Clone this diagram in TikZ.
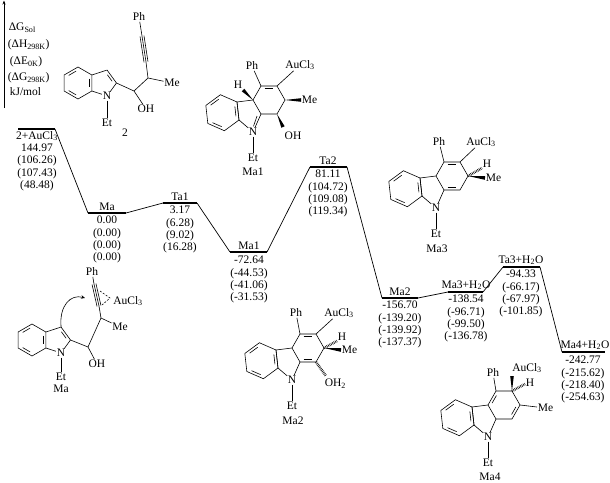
\documentclass[tikz,border=0pt]{standalone}
\usepackage{fontspec}
\setmainfont{Liberation Serif}
\usetikzlibrary{calc,arrows.meta}
\newcommand\fs{\fontsize{11.5}{12.3}\selectfont}
\newcommand\hexon[3]{%
 \coordinate (#3a) at (#1); \coordinate (#3b) at (#2);
 \coordinate (#3c) at ($(#3b)!1!120:(#3a)$);
 \coordinate (#3d) at ($(#3c)!1!120:(#3b)$);
 \coordinate (#3e) at ($(#3d)!1!120:(#3c)$);
 \coordinate (#3f) at ($(#3e)!1!120:(#3d)$);
 \coordinate (#3o) at ($(#3a)!0.5!(#3d)$);
 \draw[bond] (#3a)--(#3b)--(#3c)--(#3d)--(#3e)--(#3f)--cycle;}
\newcommand\dbl[3]{\draw[bond] ($(#1)!0.17!(#2)!2.8pt!(#3)$) -- ($(#2)!0.17!(#1)!2.8pt!(#3)$);}
\newcommand\wdg[2]{\fill (#1) -- ($(#2)!1.8pt!90:(#1)$) -- ($(#2)!1.8pt!-90:(#1)$) -- cycle;}
\newcommand\hsh[2]{\draw[line width=2.6pt, dash pattern=on 0.6pt off 1pt] (#1) -- (#2);}
\newcommand\tripl[2]{\draw[bond] (#1)--(#2);
 \draw[bond] ($(#1)!2pt!90:(#2)$) -- ($(#2)!2pt!-90:(#1)$);
 \draw[bond] ($(#1)!2pt!-90:(#2)$) -- ($(#2)!2pt!90:(#1)$);}
\newcommand\indole[4]{% cx, cy, s, prefix
 \coordinate (#4ta) at ({#1+0.866*#3},{#2-0.5*#3});
 \coordinate (#4tb) at ({#1+0.866*#3},{#2+0.5*#3});
 \hexon{#4ta}{#4tb}{#4b}
 \coordinate (#4p3) at ($(#4ta)!1!108:(#4tb)$);
 \coordinate (#4p2) at ($(#4p3)!1!108:(#4ta)$);
 \coordinate (#4pN) at ($(#4p2)!1!108:(#4p3)$);
 \coordinate (#4po) at ($(#4ta)!0.5!(#4tb)!0.45!(#4p2)$);
 \draw[bond] (#4ta) -- (#4p3) -- (#4p2) -- (#4pN) -- (#4tb);
 \dbl{#4bc}{#4bd}{#4bo}\dbl{#4be}{#4bf}{#4bo}\dbl{#4ba}{#4bb}{#4bo}
 \dbl{#4p3}{#4p2}{#4po}
 \node[atom] (#4N) at (#4pN) {N};}
\newcommand\carb[3]{% x, y, prefix
 \begin{scope}[shift={(#1,#2)}]
 \coordinate (#3N) at (0,0);
 \coordinate (#3A) at (8,-18);
 \coordinate (#3B) at (0,-32);
 \coordinate (#3C4) at (8,-46);
 \coordinate (#3C3) at (24,-46);
 \coordinate (#3C2) at (32,-32);
 \coordinate (#3C1) at (24,-18);
 \coordinate (#3D) at (-16,-30);
 \coordinate (#3E) at (-14,-12);
 \coordinate (#3ro) at (16,-32);
 \coordinate (#3po) at (-4,-19);
 \end{scope}
 \draw[bond] (#3N)--(#3A)--(#3B)--(#3D)--(#3E)--cycle;
 \draw[bond] (#3A)--(#3C1)--(#3C2)--(#3C3)--(#3C4)--(#3B);
 \hexon{#3D}{#3E}{#3l}
 \dbl{#3lc}{#3ld}{#3lo}\dbl{#3le}{#3lf}{#3lo}\dbl{#3la}{#3lb}{#3lo}
 \node[atom] (#3Nn) at (#3N) {N};
 \node[lbl] (#3Et) at ($(#3N)+(0,26)$) {Et};
 \draw[bond] (#3Nn) -- (#3Et);}
\tikzset{
 lvl/.style={line width=2.4pt},
 conn/.style={line width=0.7pt},
 num/.style={align=center, inner sep=0pt, font=\fs},
 atom/.style={inner sep=0.6pt, fill=white, font=\fs},
 lbl/.style={inner sep=0.6pt, font=\fs},
 bond/.style={line width=0.6pt}
}
\begin{document}
\begin{tikzpicture}[x=1pt,y=-1pt]
\useasboundingbox (0,0) rectangle (610,482);
% axis
\coordinate (ax0) at (4,108); \coordinate (ax1) at (4,0.5);
\draw[line width=0.6pt,-{Stealth[length=4pt,width=3pt]}] (ax0) -- (ax1);
\node[lbl,anchor=west] (yl1) at (8,28) {ΔG\textsubscript{Sol}};
\node[lbl,anchor=west] (yl2) at (7,45) {(ΔH\textsubscript{298K})};
\node[lbl,anchor=west] (yl3) at (9,62) {(ΔE\textsubscript{0K})};
\node[lbl,anchor=west] (yl4) at (7,78) {(ΔG\textsubscript{298K})};
\node[lbl,anchor=west] (yl5) at (9,92) {kJ/mol};
% levels
\coordinate (Rl) at (18,129); \coordinate (Rr) at (55,129);
\coordinate (Mal) at (88,213); \coordinate (Mar) at (126,213);
\coordinate (T1l) at (163,203); \coordinate (T1r) at (197,203);
\coordinate (M1l) at (230,252); \coordinate (M1r) at (267,252);
\coordinate (T2l) at (310,167); \coordinate (T2r) at (347,167);
\coordinate (M2l) at (382,298); \coordinate (M2r) at (418,298);
\coordinate (M3l) at (448,292); \coordinate (M3r) at (483,292);
\coordinate (T3l) at (503,267); \coordinate (T3r) at (540,267);
\coordinate (M4l) at (562,352); \coordinate (M4r) at (605,352);
\foreach \a/\b in {Rl/Rr,Mal/Mar,T1l/T1r,M1l/M1r,T2l/T2r,M2l/M2r,M3l/M3r,T3l/T3r,M4l/M4r}
  \draw[lvl] (\a) -- (\b);
\foreach \a/\b in {Rr/Mal,Mar/T1l,T1r/M1l,M1r/T2l,T2r/M2l,M2r/M3l,M3r/T3l,T3r/M4l}
  \draw[conn] (\a) -- (\b);
\node[num,anchor=north] (nR) at (37,131) {2+AuCl\textsubscript{3}\\144.97\\(106.26)\\(107.43)\\(48.48)};
\node[num,anchor=south] (lMa) at (107,211) {Ma};
\node[num,anchor=north] (nMa) at (107,216) {0.00\\(0.00)\\(0.00)\\(0.00)};
\node[num,anchor=south] (lT1) at (180,201) {Ta1};
\node[num,anchor=north] (nT1) at (180,206) {3.17\\(6.28)\\(9.02)\\(16.28)};
\node[num,anchor=south] (lM1) at (249,250) {Ma1};
\node[num,anchor=north] (nM1) at (249,256) {-72.64\\(-44.53)\\(-41.06)\\(-31.53)};
\node[num,anchor=south] (lT2) at (328,165) {Ta2};
\node[num,anchor=north] (nT2) at (328,170) {81.11\\(104.72)\\(109.08)\\(119.34)};
\node[num,anchor=south] (lM2) at (400,296) {Ma2};
\node[num,anchor=north] (nM2) at (400,301) {-156.70\\(-139.20)\\(-139.92)\\(-137.37)};
\node[num,anchor=south] (lM3) at (466,290) {Ma3+H\textsubscript{2}O};
\node[num,anchor=north] (nM3) at (466,295) {-138.54\\(-96.71)\\(-99.50)\\(-136.78)};
\node[num,anchor=south] (lT3) at (521,265) {Ta3+H\textsubscript{2}O};
\node[num,anchor=north] (nT3) at (521,270) {-94.33\\(-66.17)\\(-67.97)\\(-101.85)};
\node[num,anchor=south] (lM4) at (585,350) {Ma4+H\textsubscript{2}O};
\node[num,anchor=north] (nM4) at (583,356) {-242.77\\(-215.62)\\(-218.40)\\(-254.63)};
% ---- structure 2
\indole{78}{83}{16}{s}
\node[lbl] (sEt) at ($(spN)+(0,27)$) {Et};
\draw[bond] (sN) -- (sEt);
\node[lbl] (s2) at (125,133) {2};
\coordinate (sCa) at (134,91); \coordinate (sCb) at (148,78);
\coordinate (sC1) at (142,36); \coordinate (sC2) at (146,62);
\node[lbl] (sOH) at (146,109) {OH};
\node[lbl] (sMe) at (172,83) {Me};
\node[lbl] (sPh) at (139,17) {Ph};
\draw[bond] (sp2) -- (sCa) -- (sCb) -- (sMe);
\draw[bond] (sCa) -- (sOH);
\draw[bond] (sPh) -- (sC1); \tripl{sC1}{sC2} \draw[bond] (sC2) -- (sCb);
% ---- Ma
\indole{32}{340}{16}{a}
\node[lbl] (aEt) at ($(apN)+(0,24)$) {Et};
\draw[bond] (aN) -- (aEt);
\node[lbl] (aName) at ($(apN)+(0,36)$) {Ma};
\coordinate (aCa) at (88,347); \coordinate (aCb) at (101,318);
\coordinate (aC1) at (94,284); \coordinate (aC2) at (99,306);
\node[lbl] (aOH) at (97,364) {OH};
\node[lbl] (aMe) at (120,327) {Me};
\node[lbl] (aPh) at (92,272) {Ph};
\node[lbl] (aAu) at (128,301) {AuCl\textsubscript{3}};
\draw[bond] (ap2) -- (aCa) -- (aCb) -- (aMe);
\draw[bond] (aCa) -- (aOH);
\draw[bond] (aPh) -- (aC1); \tripl{aC1}{aC2} \draw[bond] (aC2) -- (aCb);
\coordinate (ad1) at (100,291); \coordinate (ad2) at (110,298); \coordinate (ad3) at (102,305);
\draw[bond,dash pattern=on 2pt off 1.5pt] (ad1) -- (ad2) -- (ad3);
\coordinate (aar) at (85,298);
\draw[bond,-{Stealth[length=4pt,width=3.5pt]}] (ap3) .. controls ($(ap3)+(-2,-22)$) and ($(aar)+(-14,-4)$) .. (aar);
% ---- Ma1
\carb{253}{132}{b}
\node[lbl] (bName) at (253,172) {Ma1};
\dbl{bN}{bA}{bpo}\dbl{bC4}{bC3}{bro}
\node[lbl] (bPh) at (252,66) {Ph};
\node[lbl] (bAu) at (300,65) {AuCl\textsubscript{3}};
\draw[bond] (bC4) -- (bPh); \draw[bond] (bC3) -- (bAu);
\coordinate (bMew) at (301,100); \wdg{bC2}{bMew}
\node[lbl,anchor=west] (bMe) at (bMew) {Me};
\coordinate (bOHw) at (283,127); \wdg{bC1}{bOHw}
\node[lbl] (bOH) at (293,136) {OH};
\coordinate (bHw) at (243,90); \wdg{bB}{bHw}
\node[lbl] (bH) at (238,85) {H};
% ---- Ma2
\carb{292}{380}{c}
\node[lbl] (cName) at (293,421) {Ma2};
\dbl{cC4}{cC3}{cro}\dbl{cA}{cC1}{cro}
\node[lbl] (cPh) at (296,313) {Ph};
\node[lbl] (cAu) at (339,313) {AuCl\textsubscript{3}};
\draw[bond] (cC4) -- (cPh); \draw[bond] (cC3) -- (cAu);
\coordinate (cHw) at (337,341); \hsh{cC2}{cHw}
\node[lbl,anchor=west] (cH) at (337,337) {H};
\coordinate (cMew) at (341,350); \wdg{cC2}{cMew}
\node[lbl,anchor=west] (cMe) at (cMew) {Me};
\coordinate (cOw) at (326,376); \hsh{cC1}{cOw}
\node[lbl,anchor=north west] (cOH) at (324,378) {OH\textsubscript{2}};
% ---- Ma3
\carb{436}{208}{d}
\node[lbl] (dName) at (437,249) {Ma3};
\dbl{dC4}{dC3}{dro}\dbl{dA}{dC1}{dro}
\node[lbl] (dPh) at (439,142) {Ph};
\node[lbl] (dAu) at (481,142) {AuCl\textsubscript{3}};
\draw[bond] (dC4) -- (dPh); \draw[bond] (dC3) -- (dAu);
\coordinate (dHw) at (482,168); \hsh{dC2}{dHw}
\node[lbl,anchor=west] (dH) at (482,164) {H};
\coordinate (dMew) at (485,178); \wdg{dC2}{dMew}
\node[lbl,anchor=west] (dMe) at (dMew) {Me};
% ---- Ma4
\carb{488}{437}{e}
\node[lbl] (eName) at (490,477) {Ma4};
\dbl{eB}{eC4}{ero}\dbl{eC1}{eC2}{ero}
\node[lbl] (ePh) at (493,373) {Ph};
\draw[bond] (eC4) -- (ePh);
\coordinate (eAuw) at (512,376); \wdg{eC3}{eAuw}
\node[lbl] (eAu) at (527,368) {AuCl\textsubscript{3}};
\coordinate (eHw) at (525,384); \hsh{eC3}{eHw}
\node[lbl,anchor=west] (eH) at (525,383) {H};
\node[lbl,anchor=west] (eMe) at (537,408) {Me};
\draw[bond] (eC2) -- (eMe);
\end{tikzpicture}
\end{document}
